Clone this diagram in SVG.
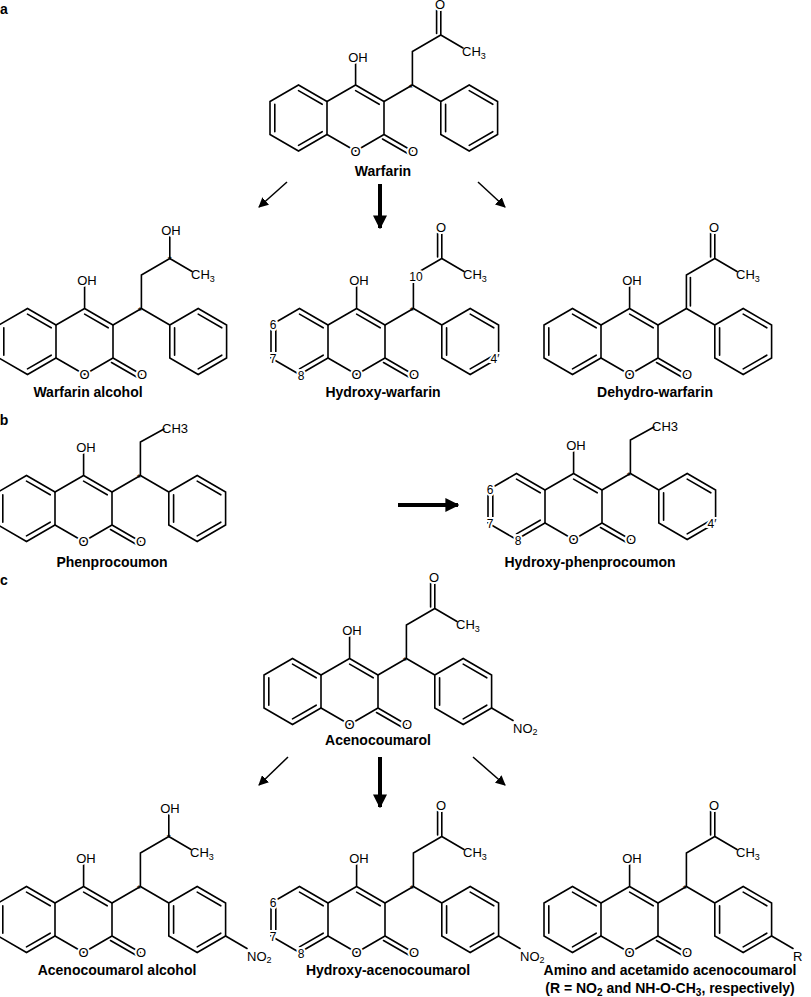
<svg xmlns="http://www.w3.org/2000/svg" xmlns:xlink="http://www.w3.org/1999/xlink" width="811" height="997" viewBox="0 0 811 997">
<style>
.b{stroke:#000;stroke-width:1.6;fill:none;stroke-linecap:round}
.t{font-family:"Liberation Sans",Arial,sans-serif;font-size:13px;fill:#000}
.h{stroke:#fff;stroke-width:4;paint-order:stroke}
.s{font-family:"Liberation Sans",Arial,sans-serif;font-size:10px;fill:#000}
.n{font-family:"Liberation Sans",Arial,sans-serif;font-size:12px;fill:#000;text-anchor:middle;stroke:#fff;stroke-width:4;paint-order:stroke}
.lab{font-family:"Liberation Sans",Arial,sans-serif;font-size:14px;font-weight:bold;fill:#000;text-anchor:middle}
.arr{stroke:#000;stroke-width:1.5;fill:none}
.arrT{stroke:#000;stroke-width:4;fill:none}
</style>
<defs>
<marker id="ah" viewBox="0 0 10 10" refX="9" refY="5" markerWidth="10" markerHeight="10" markerUnits="userSpaceOnUse" orient="auto"><path d="M0,0L10,5L0,10z" fill="#000"/></marker>
<marker id="ahT" viewBox="0 0 10 10" refX="9" refY="5" markerWidth="14" markerHeight="14" markerUnits="userSpaceOnUse" orient="auto"><path d="M0,0L10,5L0,10z" fill="#000"/></marker>
<g id="core">
<path class="b" d="M-57,0L-85.5,-16.5L-114,0L-114,33L-85.5,49.5L-57,33Z M-61.8,2.8L-85.5,-10.9 M-109.2,2.8L-109.2,30.2 M-85.5,43.9L-61.8,30.2"/>
<path class="b" d="M-57,0L-28.4,-16.5L0,0L0,33L-28.4,49.5L-57,33 M-4.8,2.8L-28.4,-10.9 M-28.4,-16.5L-28.4,-42 M0,33L28.4,49.5 M-1.5,37.5L25,52.8"/>
<text class="t h" x="-28.4" y="54" text-anchor="middle">O</text>
<text class="t h" x="29" y="54" text-anchor="middle">O</text>
<text class="t h" x="-26" y="-40" text-anchor="middle">OH</text>
</g>
<g id="ph">
<path class="b" d="M0,0L28.4,-16.5L56.8,0 M56.8,0L85.2,-16.5L113.6,0L113.6,33L85.2,49.5L56.8,33Z M85.2,-10.9L108.8,2.8 M108.8,30.2L85.2,43.9 M61.6,30.2L61.6,2.8"/>
</g>
<g id="ketone">
<path class="b" d="M28.4,-16.5L28.4,-50L56.8,-66.5L79,-53.5 M56.8,-66.5L56.8,-92 M52.6,-68L52.6,-92"/>
<text class="t h" x="56" y="-93" text-anchor="middle">O</text>
<text class="t" x="78" y="-46">CH<tspan font-size="9" dy="3">3</tspan></text>
</g>
<g id="alc">
<path class="b" d="M28.4,-16.5L28.4,-50L56.8,-66.5L79,-53.5 M56.8,-66.5L56.8,-90"/>
<text class="t h" x="58" y="-90" text-anchor="middle">OH</text>
<text class="t" x="78" y="-46">CH<tspan font-size="9" dy="3">3</tspan></text>
<text class="s" x="56.8" y="-61" text-anchor="middle">*</text>
</g>
<g id="ethyl">
<path class="b" d="M28.4,-16.5L28.4,-50L52,-63"/>
<text class="t" x="50" y="-59">CH<tspan font-size="13">3</tspan></text>
</g>
<g id="star"><text class="s" x="27" y="-10" text-anchor="middle">*</text></g>
<g id="no2">
<path class="b" d="M113.6,33L135,45.5"/>
<text class="t" x="135" y="58">NO<tspan font-size="9" dy="2">2</tspan></text>
</g>
<g id="nums">
<text class="n" x="-112" y="4">6</text>
<text class="n" x="-112" y="38">7</text>
<text class="n" x="-84" y="55">8</text>
</g>
</defs>

<text class="lab" x="4" y="14" text-anchor="start">a</text>
<text class="lab" x="4" y="425" text-anchor="start">b</text>
<text class="lab" x="4" y="585" text-anchor="start">c</text>

<g id="warfarin" transform="translate(384,101.5)">
<use xlink:href="#core"/><use xlink:href="#ph"/><use xlink:href="#ketone"/><use xlink:href="#star"/>
<text class="lab" x="-1" y="74">Warfarin</text>
</g>
<g id="warfarin-alcohol" transform="translate(113,325)">
<use xlink:href="#core"/><use xlink:href="#ph"/><use xlink:href="#alc"/><use xlink:href="#star"/>
<text class="lab" x="-25" y="72">Warfarin alcohol</text>
</g>
<g id="hydroxy-warfarin" transform="translate(385,325)">
<use xlink:href="#core"/><use xlink:href="#ph"/><use xlink:href="#ketone"/><use xlink:href="#star"/><use xlink:href="#nums"/>
<text class="n" x="31" y="-44">10</text>
<text class="n" x="110" y="38">4′</text>
<text class="lab" x="-2" y="72">Hydroxy-warfarin</text>
</g>
<g id="dehydro-warfarin" transform="translate(658,325)">
<use xlink:href="#core"/><use xlink:href="#ph"/>
<path class="b" d="M32.4,-19L32.4,-47.5"/>
<use xlink:href="#ketone"/>
<text class="lab" x="-3" y="72">Dehydro-warfarin</text>
</g>
<g id="phenprocoumon" transform="translate(112,492)">
<use xlink:href="#core"/><use xlink:href="#ph"/><use xlink:href="#ethyl"/><use xlink:href="#star"/>
<text class="lab" x="0" y="75">Phenprocoumon</text>
</g>
<g id="hydroxy-phenprocoumon" transform="translate(602,490)">
<use xlink:href="#core"/><use xlink:href="#ph"/><use xlink:href="#ethyl"/><use xlink:href="#star"/><use xlink:href="#nums"/>
<text class="n" x="110" y="38">4′</text>
<text class="lab" x="-12" y="77">Hydroxy-phenprocoumon</text>
</g>
<g id="acenocoumarol" transform="translate(378,675)">
<use xlink:href="#core"/><use xlink:href="#ph"/><use xlink:href="#ketone"/><use xlink:href="#star"/><use xlink:href="#no2"/>
<text class="lab" x="0" y="70">Acenocoumarol</text>
</g>
<g id="acenocoumarol-alcohol" transform="translate(112,903)">
<use xlink:href="#core"/><use xlink:href="#ph"/><use xlink:href="#alc"/><use xlink:href="#star"/><use xlink:href="#no2"/>
<text class="lab" x="5" y="72">Acenocoumarol alcohol</text>
</g>
<g id="hydroxy-acenocoumarol" transform="translate(385,903)">
<use xlink:href="#core"/><use xlink:href="#ph"/><use xlink:href="#ketone"/><use xlink:href="#star"/><use xlink:href="#nums"/><use xlink:href="#no2"/>
<text class="lab" x="3" y="72">Hydroxy-acenocoumarol</text>
</g>
<g id="amino-acenocoumarol" transform="translate(658,903)">
<use xlink:href="#core"/><use xlink:href="#ph"/><use xlink:href="#ketone"/><use xlink:href="#star"/>
<path class="b" d="M113.6,33L135,45.5"/>
<text class="t" x="135" y="58">R</text>
<text class="lab" x="12" y="72">Amino and acetamido acenocoumarol</text>
<text class="lab" x="12" y="90">(R = NO<tspan font-size="10" dy="3">2</tspan><tspan dy="-3"> and NH-O-CH</tspan><tspan font-size="10" dy="3">3</tspan><tspan dy="-3">, respectively)</tspan></text>
</g>

<g id="connectors">
<line class="arr" x1="287" y1="182" x2="259" y2="207" marker-end="url(#ah)"/>
<line class="arrT" x1="380" y1="184" x2="380" y2="228" marker-end="url(#ahT)"/>
<line class="arr" x1="478" y1="182" x2="505" y2="207" marker-end="url(#ah)"/>
<line class="arrT" x1="398" y1="505" x2="458" y2="505" marker-end="url(#ahT)"/>
<line class="arr" x1="288" y1="757" x2="259" y2="785" marker-end="url(#ah)"/>
<line class="arrT" x1="380" y1="757" x2="380" y2="807" marker-end="url(#ahT)"/>
<line class="arr" x1="473" y1="757" x2="505" y2="785" marker-end="url(#ah)"/>
</g>
</svg>
